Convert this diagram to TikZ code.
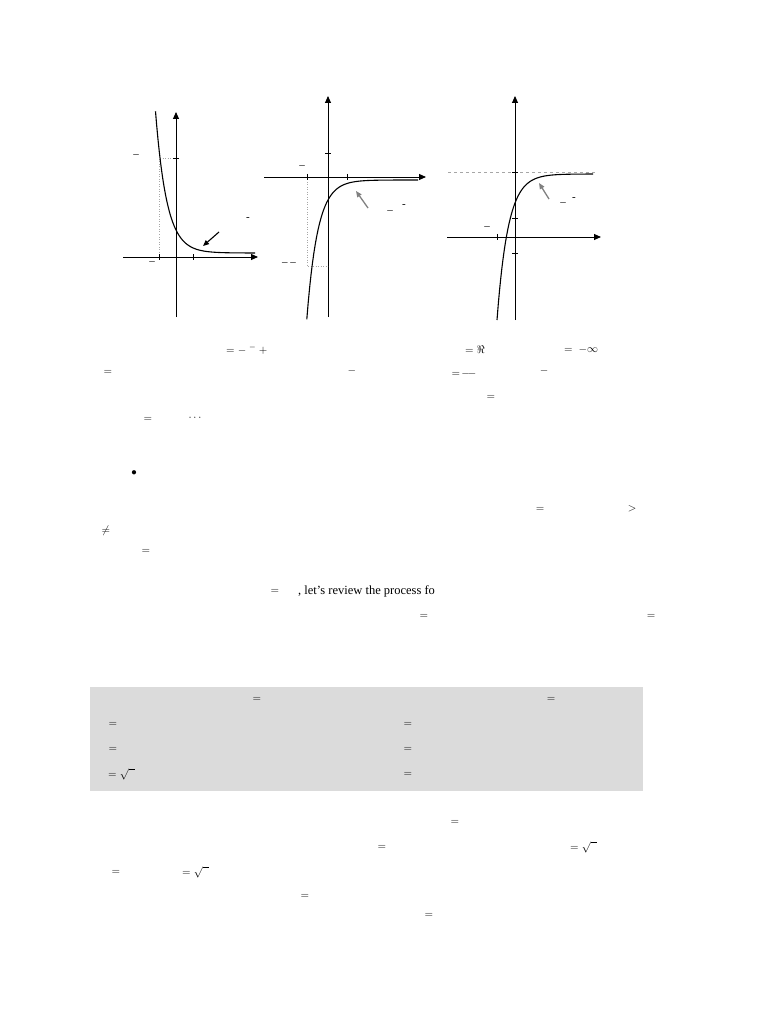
\documentclass[tikz,border=0pt]{standalone}
\usepackage{amssymb}
\usepackage{fontspec}
\setmainfont{Liberation Serif}
\begin{document}
\begin{tikzpicture}[x=1pt,y=-1pt,
  ax/.style={line width=0.9pt,-{Triangle[length=7pt,width=6pt]}},
  crv/.style={line width=1.1pt},
  guide/.style={gray!70,dotted,line width=0.5pt},
  tk/.style={line width=0.5pt},
  txt/.style={inner sep=0pt,font=\fontsize{11}{13}\selectfont},
  garr/.style={gray,line width=1.3pt,-{Triangle[length=6pt,width=5pt]}},
  barr/.style={black,line width=1.1pt,-{Triangle[length=6pt,width=5pt]}}]
\usetikzlibrary{arrows.meta}
\useasboundingbox (0,0) rectangle (768,1024);
% graph 1
\coordinate (a1s) at (176,317); \coordinate (a1e) at (176,112);
\coordinate (b1s) at (123,257); \coordinate (b1e) at (258,257);
\draw[ax] (a1s) -- (a1e); \draw[ax] (b1s) -- (b1e);
\draw[guide] (159,257) -- (159,158) -- (176,158);
\draw[crv] plot[domain=155.5:255,samples=80] (\x,{253-23*exp(-0.0887*(\x-176))});
\foreach \p in {159,193} \draw[tk] (\p,254) -- (\p,260);
\draw[tk] (173,158) -- (179,158);
\coordinate (p1a) at (219,232); \coordinate (p1b) at (203,246);
\draw[barr] (p1a) -- (p1b);
\node[txt] (l11) at (136,156) {–}; \node[txt] (l12) at (152,263) {–}; \node[txt] (l13) at (248,219) {-};
% graph 2
\coordinate (a2s) at (328,317); \coordinate (a2e) at (328,96);
\coordinate (b2s) at (264,177); \coordinate (b2e) at (426,177);
\draw[ax] (a2s) -- (a2e); \draw[ax] (b2s) -- (b2e);
\draw[guide] (307,177) -- (307,266) -- (328,266);
\draw[crv] plot[domain=306.8:418,samples=80] (\x,{180+20*exp(-0.0916*(\x-328))});
\foreach \p in {307,347} \draw[tk] (\p,174) -- (\p,180);
\draw[tk] (325,153) -- (331,153);
\coordinate (p2a) at (368,208); \coordinate (p2b) at (356,191);
\draw[garr] (p2a) -- (p2b);
\node[txt] (l21) at (302,167) {–}; \node[txt] (l22) at (289,264) {– –};
\node[txt] (l23) at (390,212) {–}; \node[txt] (l24) at (404,206) {-};
% graph 3
\coordinate (a3s) at (515,320); \coordinate (a3e) at (515,96);
\coordinate (b3s) at (447,237); \coordinate (b3e) at (601,237);
\draw[ax] (a3s) -- (a3e); \draw[ax] (b3s) -- (b3e);
\draw[gray!70,dashed,line width=0.6pt] (448,172) -- (595,172);
\draw[crv] plot[domain=497:593,samples=80] (\x,{174+29*exp(-0.0898*(\x-515))});
\draw[tk] (497,234) -- (497,240);
\foreach \q in {172,218,253} \draw[tk] (512,\q) -- (518,\q);
\coordinate (p3a) at (549,199); \coordinate (p3b) at (539,183);
\draw[garr] (p3a) -- (p3b);
\node[txt] (l31) at (487,228) {–}; \node[txt] (l32) at (563,204) {–}; \node[txt] (l33) at (574,199) {-};
% text block
\node[txt,anchor=west] (t1) at (226,350) {$=-\ ^{-}\ +$};
\node[txt,anchor=west] (t2) at (465,350) {$=\Re$};
\node[txt,anchor=west] (t3) at (564,350) {$=\ -\infty$};
\node[txt] (t4) at (108,372) {$=$};
\node[txt] (t5) at (352,371) {$-$};
\node[txt] (t6) at (464,374) {$=\!-\!-$};
\node[txt] (t7) at (544,371) {$-$};
\node[txt] (t8) at (491,397) {$=$};
\node[txt] (t9) at (148,419) {$=$};
\node[txt] (t10) at (195,418) {$\cdots$};
\node[txt] (t11) at (134,473) {$\bullet$};
\node[txt] (t12) at (540,509) {$=$};
\node[txt] (t13) at (632,509) {$>$};
\node[txt] (t14) at (106,531) {$\neq$};
\node[txt] (t15) at (146,551) {$=$};
\node[txt] (t16) at (275,591) {$=$};
\node[txt,anchor=west,font=\fontsize{12.5}{14}\selectfont] (t17) at (298,591) {, let’s review the process fo};
\node[txt] (t18) at (424,616) {$=$};
\node[txt] (t19) at (651,616) {$=$};
% gray box
\fill[gray!28] (90,687) rectangle (643,791);
\node[txt] (g1) at (257,699) {$=$}; \node[txt] (g2) at (551,699) {$=$};
\node[txt] (g3) at (113,724) {$=$}; \node[txt] (g4) at (408,724) {$=$};
\node[txt] (g5) at (113,749) {$=$}; \node[txt] (g6) at (408,749) {$=$};
\node[txt,anchor=west] (g7) at (108,774) {$=\sqrt{\phantom{x}}$}; \node[txt] (g8) at (408,774) {$=$};
% bottom text
\node[txt] (u1) at (455,822) {$=$};
\node[txt] (u2) at (382,847) {$=$};
\node[txt,anchor=west] (u3) at (570,847) {$=\sqrt{\phantom{x}}$};
\node[txt] (u4) at (116,872) {$=$};
\node[txt,anchor=west] (u5) at (182,872) {$=\sqrt{\phantom{x}}$};
\node[txt] (u6) at (305,896) {$=$};
\node[txt] (u7) at (429,915) {$=$};
\end{tikzpicture}
\end{document}
